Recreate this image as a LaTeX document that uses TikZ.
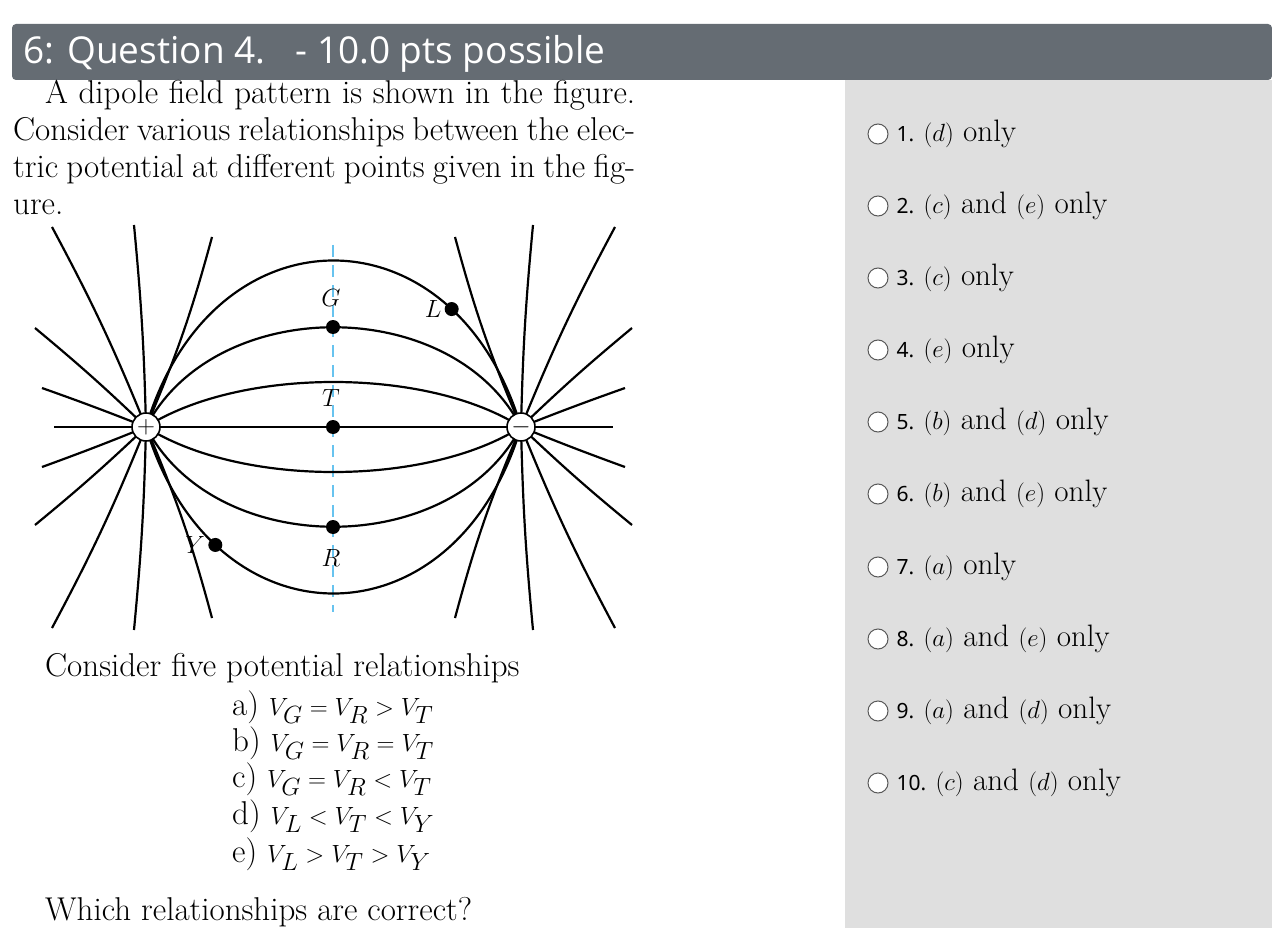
\documentclass[tikz,border=0pt]{standalone}
\usepackage{fontspec}
\newfontfamily\hdr{Open Sans}
\newfontfamily\ans{Noto Sans}
\begin{document}
\begin{tikzpicture}[x=1pt,y=-1pt,
  fl/.style={line width=2.2pt},
  chg/.style={circle,draw,line width=1.6pt,fill=white,minimum size=28pt,inner sep=0pt,font=\fontsize{26}{26}\selectfont},
  dot/.style={circle,fill=black,minimum size=14pt,inner sep=0pt},
  lab/.style={font=\fontsize{31}{31}\selectfont\itshape},
  radio/.style={circle,draw=gray!70!black,fill=white,line width=1pt,minimum size=20pt,inner sep=0pt},
  optxt/.style={anchor=west,font=\fontsize{31}{31}\selectfont}]
\useasboundingbox (0,0) rectangle (1272,952);
\fill[white] (0,0) rectangle (1272,952);
\fill[gray!25] (845,80) rectangle (1272,928);
\fill[rounded corners=4pt,fill={rgb,255:red,101;green,108;blue,115}] (12,80) |- (1272,24) -- (1272,80) -- cycle;
\node[anchor=base west,text=white,font=\hdr\fontsize{37}{37}\selectfont] (hd1) at (20,64) {6: Question 4.};
\node[anchor=base west,text=white,font=\hdr\fontsize{37}{37}\selectfont] (hd2) at (292,64) {- 10.0 pts possible};
% intro
\node[anchor=north west,inner sep=0pt,text width=622pt,align=justify,font=\fontsize{33}{37}\selectfont] (intro) at (13,80)
 {\hspace*{32pt}A dipole field pattern is shown in the figure. Consider various relationships between the electric potential at different points given in the figure.};
% figure
\coordinate (P) at (146,427);
\coordinate (M) at (521,427);
\draw[cyan!90!blue!60,line width=1.6pt,dash pattern=on 12pt off 8pt] (333,245) -- (333,612);
\foreach \ex/\ey/\b in {52/227/-3,134/225/-2,212/237/-4,35/328/-2,42/388/-1,42/467/1,35/525/2,52/628/3,134/630/2,212/618/4}{
  \draw[fl] (P) to[bend left=\b] (\ex,\ey);
}
\foreach \ex/\ey/\b in {615/227/3,533/225/2,455/237/4,632/328/2,625/388/1,625/467/-1,632/525/-2,615/628/-3,533/630/-2,455/618/-4}{
  \draw[fl] (M) to[bend left=\b] (\ex,\ey);
}
\draw[fl] (P) -- (54,427);
\draw[fl] (M) -- (613,427);
\draw[fl] (P) .. controls (212,205) and (455,205) .. node[pos=0.77,dot] (L) {} (M);
\draw[fl] (P) .. controls (215,294) and (452,294) .. (M);
\draw[fl] (P) .. controls (240,367) and (427,367) .. (M);
\draw[fl] (P) -- (M);
\draw[fl] (P) .. controls (240,487) and (427,487) .. (M);
\draw[fl] (P) .. controls (215,560) and (452,560) .. (M);
\draw[fl] (P) .. controls (212,649) and (455,649) .. node[pos=0.23,dot] (Y) {} (M);
\node[chg] (plus) at (P) {$+$};
\node[chg] (minus) at (M) {$-$};
\node[dot] (G) at (333,327) {};
\node[dot] (T) at (333,427) {};
\node[dot] (R) at (333,527) {};
\node[lab] (Gl) at (331,298) {$G$};
\node[lab] (Tl) at (331,398) {$T$};
\node[lab] (Rl) at (331,558) {$R$};
\node[lab,anchor=east,inner sep=2pt] (Ll) at (L.west) {$L$};
\node[lab,anchor=east,inner sep=2pt] (Yl) at (Y.west) {$Y$};
% relationships
\begin{scope}[every node/.style={anchor=base west,inner sep=0pt,font=\fontsize{33}{33}\selectfont}]
\node (c5) at (45,676) {Consider five potential relationships};
\node (ra) at (232,715) {a)\ $V_G=V_R>V_T$};
\node (rb) at (232,751) {b)\ $V_G=V_R=V_T$};
\node (rc) at (232,787) {c)\ $V_G=V_R<V_T$};
\node (rd) at (232,824) {d)\ $V_L<V_T<V_Y$};
\node (re) at (232,862) {e)\ $V_L>V_T>V_Y$};
\node (wq) at (45,920) {Which relationships are correct?};
\end{scope}
% options
\foreach \i/\y/\t in {1/134/{$(d)$ only},2/206/{$(c)$ and $(e)$ only},3/278/{$(c)$ only},4/350/{$(e)$ only},5/422/{$(b)$ and $(d)$ only},6/494/{$(b)$ and $(e)$ only},7/567/{$(a)$ only},8/639/{$(a)$ and $(e)$ only},9/711/{$(a)$ and $(d)$ only},10/783/{$(c)$ and $(d)$ only}}{
  \node[radio] (r\i) at (878,\y) {};
  \node[optxt] (o\i) at (893,\y) {{\ans\fontsize{21}{21}\selectfont\i.}\ \t};
}
\end{tikzpicture}
\end{document}
